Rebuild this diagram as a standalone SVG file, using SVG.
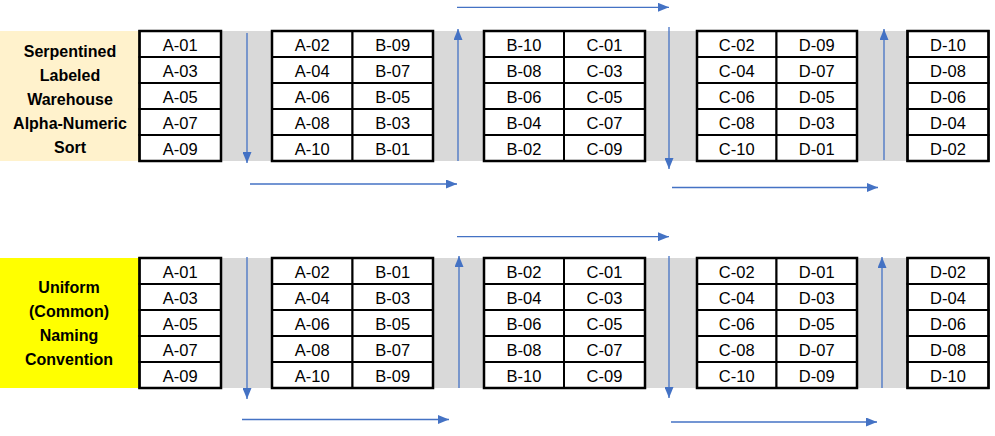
<svg xmlns="http://www.w3.org/2000/svg" width="995" height="436" viewBox="0 0 995 436">
<style>
.cell rect{fill:#fff;stroke:#000;stroke-width:2}
.cell text{font-family:"Liberation Sans",Arial,sans-serif;font-size:16.5px;fill:#000;text-anchor:middle}
.lbl{font-family:"Liberation Sans",Arial,sans-serif;font-size:16px;font-weight:bold;fill:#000;text-anchor:middle}
.arr{stroke:#4472C4;stroke-width:1.3;fill:none;marker-end:url(#ah)}
</style>
<defs>
<marker id="ah" markerUnits="userSpaceOnUse" markerWidth="11" markerHeight="9" refX="11" refY="4.5" orient="auto">
<path d="M0,0 L11,4.5 L0,9 Z" fill="#4472C4"/>
</marker>
</defs>
<rect width="995" height="436" fill="#fff"/>
<!-- bands -->
<rect x="0" y="31" width="139.5" height="130" fill="#FFF2CC"/>
<rect x="139.5" y="31" width="849" height="130" fill="#D9D9D9"/>
<rect x="0" y="258" width="139.5" height="130" fill="#FFFF00"/>
<rect x="139.5" y="258" width="849" height="130" fill="#D9D9D9"/>
<g id="label-top">
<text class="lbl" x="70" y="57">Serpentined</text>
<text class="lbl" x="70" y="81">Labeled</text>
<text class="lbl" x="70" y="105">Warehouse</text>
<text class="lbl" x="70" y="129">Alpha-Numeric</text>
<text class="lbl" x="70" y="153">Sort</text>
</g>
<g id="label-bottom">
<text class="lbl" x="69" y="292.5">Uniform</text>
<text class="lbl" x="69" y="316.5">(Common)</text>
<text class="lbl" x="69" y="340.5">Naming</text>
<text class="lbl" x="69" y="364.5">Convention</text>
</g>
<!-- top panel cells -->
<g id="t-A01" class="cell"><rect x="139.5" y="31" width="81.5" height="26"/><text x="180.25" y="50.7">A-01</text></g>
<g id="t-A03" class="cell"><rect x="139.5" y="57" width="81.5" height="26"/><text x="180.25" y="76.7">A-03</text></g>
<g id="t-A05" class="cell"><rect x="139.5" y="83" width="81.5" height="26"/><text x="180.25" y="102.7">A-05</text></g>
<g id="t-A07" class="cell"><rect x="139.5" y="109" width="81.5" height="26"/><text x="180.25" y="128.7">A-07</text></g>
<g id="t-A09" class="cell"><rect x="139.5" y="135" width="81.5" height="26"/><text x="180.25" y="154.7">A-09</text></g>

<g id="t-A02" class="cell"><rect x="272" y="31" width="80.5" height="26"/><text x="312.25" y="50.7">A-02</text></g>
<g id="t-A04" class="cell"><rect x="272" y="57" width="80.5" height="26"/><text x="312.25" y="76.7">A-04</text></g>
<g id="t-A06" class="cell"><rect x="272" y="83" width="80.5" height="26"/><text x="312.25" y="102.7">A-06</text></g>
<g id="t-A08" class="cell"><rect x="272" y="109" width="80.5" height="26"/><text x="312.25" y="128.7">A-08</text></g>
<g id="t-A10" class="cell"><rect x="272" y="135" width="80.5" height="26"/><text x="312.25" y="154.7">A-10</text></g>
<g id="t-B09" class="cell"><rect x="352.5" y="31" width="80.5" height="26"/><text x="392.75" y="50.7">B-09</text></g>
<g id="t-B07" class="cell"><rect x="352.5" y="57" width="80.5" height="26"/><text x="392.75" y="76.7">B-07</text></g>
<g id="t-B05" class="cell"><rect x="352.5" y="83" width="80.5" height="26"/><text x="392.75" y="102.7">B-05</text></g>
<g id="t-B03" class="cell"><rect x="352.5" y="109" width="80.5" height="26"/><text x="392.75" y="128.7">B-03</text></g>
<g id="t-B01" class="cell"><rect x="352.5" y="135" width="80.5" height="26"/><text x="392.75" y="154.7">B-01</text></g>

<g id="t-B10" class="cell"><rect x="484" y="31" width="80" height="26"/><text x="524" y="50.7">B-10</text></g>
<g id="t-B08" class="cell"><rect x="484" y="57" width="80" height="26"/><text x="524" y="76.7">B-08</text></g>
<g id="t-B06" class="cell"><rect x="484" y="83" width="80" height="26"/><text x="524" y="102.7">B-06</text></g>
<g id="t-B04" class="cell"><rect x="484" y="109" width="80" height="26"/><text x="524" y="128.7">B-04</text></g>
<g id="t-B02" class="cell"><rect x="484" y="135" width="80" height="26"/><text x="524" y="154.7">B-02</text></g>
<g id="t-C01" class="cell"><rect x="564" y="31" width="81" height="26"/><text x="604.5" y="50.7">C-01</text></g>
<g id="t-C03" class="cell"><rect x="564" y="57" width="81" height="26"/><text x="604.5" y="76.7">C-03</text></g>
<g id="t-C05" class="cell"><rect x="564" y="83" width="81" height="26"/><text x="604.5" y="102.7">C-05</text></g>
<g id="t-C07" class="cell"><rect x="564" y="109" width="81" height="26"/><text x="604.5" y="128.7">C-07</text></g>
<g id="t-C09" class="cell"><rect x="564" y="135" width="81" height="26"/><text x="604.5" y="154.7">C-09</text></g>

<g id="t-C02" class="cell"><rect x="697" y="31" width="79.5" height="26"/><text x="736.75" y="50.7">C-02</text></g>
<g id="t-C04" class="cell"><rect x="697" y="57" width="79.5" height="26"/><text x="736.75" y="76.7">C-04</text></g>
<g id="t-C06" class="cell"><rect x="697" y="83" width="79.5" height="26"/><text x="736.75" y="102.7">C-06</text></g>
<g id="t-C08" class="cell"><rect x="697" y="109" width="79.5" height="26"/><text x="736.75" y="128.7">C-08</text></g>
<g id="t-C10" class="cell"><rect x="697" y="135" width="79.5" height="26"/><text x="736.75" y="154.7">C-10</text></g>
<g id="t-D09" class="cell"><rect x="776.5" y="31" width="80.5" height="26"/><text x="816.75" y="50.7">D-09</text></g>
<g id="t-D07" class="cell"><rect x="776.5" y="57" width="80.5" height="26"/><text x="816.75" y="76.7">D-07</text></g>
<g id="t-D05" class="cell"><rect x="776.5" y="83" width="80.5" height="26"/><text x="816.75" y="102.7">D-05</text></g>
<g id="t-D03" class="cell"><rect x="776.5" y="109" width="80.5" height="26"/><text x="816.75" y="128.7">D-03</text></g>
<g id="t-D01" class="cell"><rect x="776.5" y="135" width="80.5" height="26"/><text x="816.75" y="154.7">D-01</text></g>

<g id="t-D10" class="cell"><rect x="907.5" y="31" width="81" height="26"/><text x="948" y="50.7">D-10</text></g>
<g id="t-D08" class="cell"><rect x="907.5" y="57" width="81" height="26"/><text x="948" y="76.7">D-08</text></g>
<g id="t-D06" class="cell"><rect x="907.5" y="83" width="81" height="26"/><text x="948" y="102.7">D-06</text></g>
<g id="t-D04" class="cell"><rect x="907.5" y="109" width="81" height="26"/><text x="948" y="128.7">D-04</text></g>
<g id="t-D02" class="cell"><rect x="907.5" y="135" width="81" height="26"/><text x="948" y="154.7">D-02</text></g>

<!-- bottom panel cells -->
<g id="b-A01" class="cell"><rect x="139.5" y="258" width="81.5" height="26"/><text x="180.25" y="277.7">A-01</text></g>
<g id="b-A03" class="cell"><rect x="139.5" y="284" width="81.5" height="26"/><text x="180.25" y="303.7">A-03</text></g>
<g id="b-A05" class="cell"><rect x="139.5" y="310" width="81.5" height="26"/><text x="180.25" y="329.7">A-05</text></g>
<g id="b-A07" class="cell"><rect x="139.5" y="336" width="81.5" height="26"/><text x="180.25" y="355.7">A-07</text></g>
<g id="b-A09" class="cell"><rect x="139.5" y="362" width="81.5" height="26"/><text x="180.25" y="381.7">A-09</text></g>

<g id="b-A02" class="cell"><rect x="272" y="258" width="80.5" height="26"/><text x="312.25" y="277.7">A-02</text></g>
<g id="b-A04" class="cell"><rect x="272" y="284" width="80.5" height="26"/><text x="312.25" y="303.7">A-04</text></g>
<g id="b-A06" class="cell"><rect x="272" y="310" width="80.5" height="26"/><text x="312.25" y="329.7">A-06</text></g>
<g id="b-A08" class="cell"><rect x="272" y="336" width="80.5" height="26"/><text x="312.25" y="355.7">A-08</text></g>
<g id="b-A10" class="cell"><rect x="272" y="362" width="80.5" height="26"/><text x="312.25" y="381.7">A-10</text></g>
<g id="b-B01" class="cell"><rect x="352.5" y="258" width="80.5" height="26"/><text x="392.75" y="277.7">B-01</text></g>
<g id="b-B03" class="cell"><rect x="352.5" y="284" width="80.5" height="26"/><text x="392.75" y="303.7">B-03</text></g>
<g id="b-B05" class="cell"><rect x="352.5" y="310" width="80.5" height="26"/><text x="392.75" y="329.7">B-05</text></g>
<g id="b-B07" class="cell"><rect x="352.5" y="336" width="80.5" height="26"/><text x="392.75" y="355.7">B-07</text></g>
<g id="b-B09" class="cell"><rect x="352.5" y="362" width="80.5" height="26"/><text x="392.75" y="381.7">B-09</text></g>

<g id="b-B02" class="cell"><rect x="484" y="258" width="80" height="26"/><text x="524" y="277.7">B-02</text></g>
<g id="b-B04" class="cell"><rect x="484" y="284" width="80" height="26"/><text x="524" y="303.7">B-04</text></g>
<g id="b-B06" class="cell"><rect x="484" y="310" width="80" height="26"/><text x="524" y="329.7">B-06</text></g>
<g id="b-B08" class="cell"><rect x="484" y="336" width="80" height="26"/><text x="524" y="355.7">B-08</text></g>
<g id="b-B10" class="cell"><rect x="484" y="362" width="80" height="26"/><text x="524" y="381.7">B-10</text></g>
<g id="b-C01" class="cell"><rect x="564" y="258" width="81" height="26"/><text x="604.5" y="277.7">C-01</text></g>
<g id="b-C03" class="cell"><rect x="564" y="284" width="81" height="26"/><text x="604.5" y="303.7">C-03</text></g>
<g id="b-C05" class="cell"><rect x="564" y="310" width="81" height="26"/><text x="604.5" y="329.7">C-05</text></g>
<g id="b-C07" class="cell"><rect x="564" y="336" width="81" height="26"/><text x="604.5" y="355.7">C-07</text></g>
<g id="b-C09" class="cell"><rect x="564" y="362" width="81" height="26"/><text x="604.5" y="381.7">C-09</text></g>

<g id="b-C02" class="cell"><rect x="697" y="258" width="79.5" height="26"/><text x="736.75" y="277.7">C-02</text></g>
<g id="b-C04" class="cell"><rect x="697" y="284" width="79.5" height="26"/><text x="736.75" y="303.7">C-04</text></g>
<g id="b-C06" class="cell"><rect x="697" y="310" width="79.5" height="26"/><text x="736.75" y="329.7">C-06</text></g>
<g id="b-C08" class="cell"><rect x="697" y="336" width="79.5" height="26"/><text x="736.75" y="355.7">C-08</text></g>
<g id="b-C10" class="cell"><rect x="697" y="362" width="79.5" height="26"/><text x="736.75" y="381.7">C-10</text></g>
<g id="b-D01" class="cell"><rect x="776.5" y="258" width="80.5" height="26"/><text x="816.75" y="277.7">D-01</text></g>
<g id="b-D03" class="cell"><rect x="776.5" y="284" width="80.5" height="26"/><text x="816.75" y="303.7">D-03</text></g>
<g id="b-D05" class="cell"><rect x="776.5" y="310" width="80.5" height="26"/><text x="816.75" y="329.7">D-05</text></g>
<g id="b-D07" class="cell"><rect x="776.5" y="336" width="80.5" height="26"/><text x="816.75" y="355.7">D-07</text></g>
<g id="b-D09" class="cell"><rect x="776.5" y="362" width="80.5" height="26"/><text x="816.75" y="381.7">D-09</text></g>

<g id="b-D02" class="cell"><rect x="907.5" y="258" width="81" height="26"/><text x="948" y="277.7">D-02</text></g>
<g id="b-D04" class="cell"><rect x="907.5" y="284" width="81" height="26"/><text x="948" y="303.7">D-04</text></g>
<g id="b-D06" class="cell"><rect x="907.5" y="310" width="81" height="26"/><text x="948" y="329.7">D-06</text></g>
<g id="b-D08" class="cell"><rect x="907.5" y="336" width="81" height="26"/><text x="948" y="355.7">D-08</text></g>
<g id="b-D10" class="cell"><rect x="907.5" y="362" width="81" height="26"/><text x="948" y="381.7">D-10</text></g>

<!-- rack outlines -->
<g fill="none" stroke="#000" stroke-width="2.5">
<rect x="139.5" y="31" width="81.5" height="130"/>
<rect x="272" y="31" width="161" height="130"/>
<rect x="484" y="31" width="161" height="130"/>
<rect x="697" y="31" width="160" height="130"/>
<rect x="907.5" y="31" width="81" height="130"/>
<rect x="139.5" y="258" width="81.5" height="130"/>
<rect x="272" y="258" width="161" height="130"/>
<rect x="484" y="258" width="161" height="130"/>
<rect x="697" y="258" width="160" height="130"/>
<rect x="907.5" y="258" width="81" height="130"/>
</g>

<g id="connectors">
<line class="arr" x1="247" y1="33" x2="247" y2="163"/>
<line class="arr" x1="250" y1="184" x2="457" y2="184"/>
<line class="arr" x1="458" y1="161" x2="458" y2="29"/>
<line class="arr" x1="457" y1="7.3" x2="669" y2="7.3"/>
<line class="arr" x1="669" y1="27" x2="669" y2="169"/>
<line class="arr" x1="672" y1="187.5" x2="878" y2="187.5"/>
<line class="arr" x1="884" y1="160" x2="884" y2="29"/>

<line class="arr" x1="247" y1="257" x2="247" y2="399"/>
<line class="arr" x1="242" y1="419.5" x2="449" y2="419.5"/>
<line class="arr" x1="459" y1="388" x2="459" y2="256"/>
<line class="arr" x1="457" y1="236.7" x2="669" y2="236.7"/>
<line class="arr" x1="669" y1="256" x2="669" y2="398"/>
<line class="arr" x1="671" y1="422" x2="877" y2="422"/>
<line class="arr" x1="882" y1="388" x2="882" y2="257"/>
</g>
</svg>
